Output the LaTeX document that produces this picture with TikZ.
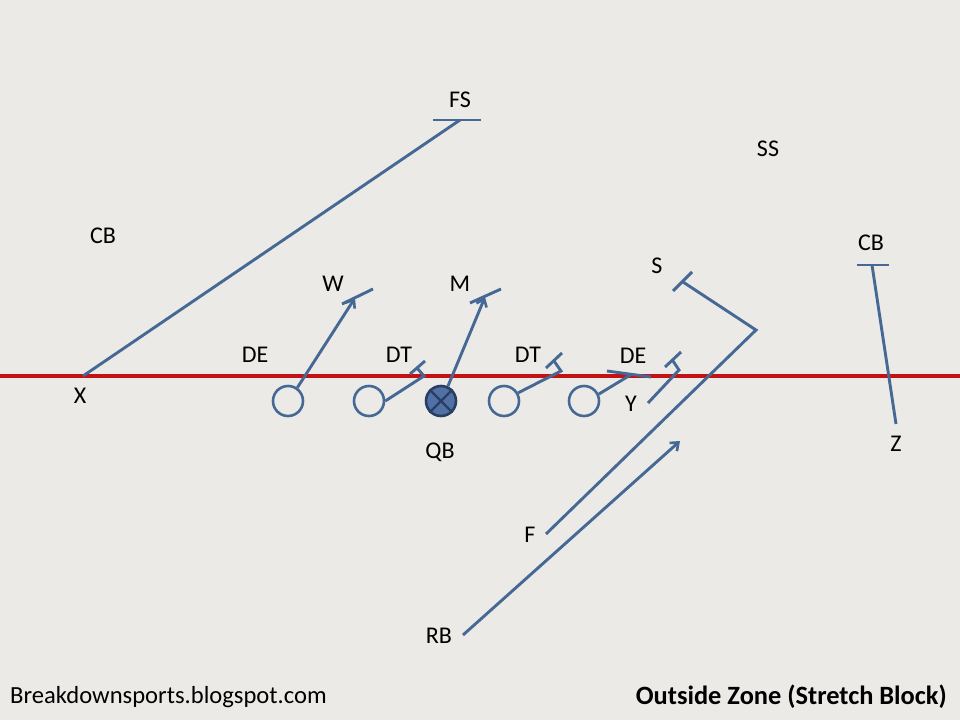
\documentclass[tikz,border=0pt]{standalone}
\usepackage{fontspec}
\setmainfont{Carlito}
\usetikzlibrary{arrows.meta}
\definecolor{bg}{RGB}{236,234,231}
\definecolor{route}{RGB}{70,104,148}
\definecolor{los}{RGB}{196,18,20}
\definecolor{qbfill}{RGB}{80,112,166}
\definecolor{qbline}{RGB}{40,62,98}
\tikzset{
  lbl/.style={font=\fontsize{24}{26}\selectfont, inner sep=0pt, text=black},
  player/.style={circle, draw=route, line width=2.6pt, minimum size=30pt, inner sep=0pt},
  rt/.style={draw=route, line width=2.9pt},
  bar/.style={draw=route, line width=2.9pt},
  tip/.style={-{Straight Barb[length=7pt,width=11pt,line width=2.6pt]}},
}
\begin{document}
\begin{tikzpicture}[x=1pt,y=-1pt]
\fill[bg] (0,0) rectangle (960,720);
\useasboundingbox (0,0) rectangle (960,720);
% line of scrimmage
\coordinate (losL) at (0,376);
\coordinate (losR) at (960,376);
\draw[los, line width=3.5pt] (losL) -- (losR);

% labels
\node[lbl] (fs) at (460,100) {FS};
\node[lbl] (ss) at (768,149) {SS};
\node[lbl] (cbl) at (103,236) {CB};
\node[lbl] (cbr) at (871,243) {CB};
\node[lbl] (w) at (333,284) {W};
\node[lbl] (m) at (460,284) {M};
\node[lbl] (s) at (657,266) {S};
\node[lbl] (de1) at (255,355) {DE};
\node[lbl] (dt1) at (399,355) {DT};
\node[lbl] (dt2) at (528,355) {DT};
\node[lbl] (de2) at (633,356) {DE};
\node[lbl] (x) at (80,396) {X};
\node[lbl] (y) at (631,404) {Y};
\node[lbl] (z) at (896,444) {Z};
\node[lbl] (qb) at (440,452) {QB};
\node[lbl] (f) at (530,535) {F};
\node[lbl] (rb) at (439,636) {RB};
\node[lbl, anchor=west, font=\fontsize{24.6}{26}\selectfont] (credit) at (10,697) {Breakdownsports.blogspot.com};
\node[lbl, anchor=east, font=\fontsize{26.4}{28}\selectfont\bfseries] (title) at (947,697) {Outside Zone (Stretch Block)};

% offensive line
\node[player] (lt) at (288,401) {};
\node[player] (lg) at (369,401) {};
\node[player, fill=qbfill, draw=qbline] (c) at (441,401) {};
\draw[qbline, line width=2.4pt] (c.north west) -- (c.south east) (c.north east) -- (c.south west);
\node[player] (rg) at (504,401) {};
\node[player] (rt) at (584,401) {};

% X to FS
\coordinate (xs) at (83,376);
\coordinate (fsm) at (460,120);
\coordinate (fsa) at (433,120);
\coordinate (fsb) at (481,120);
\draw[rt] (xs) -- (fsm);
\draw[bar] (fsa) -- (fsb);

% LT to W
\coordinate (wt) at (355,298);
\coordinate (wa) at (342,304);
\coordinate (wb) at (373,289);
\draw[rt, tip] (lt.55) -- (wt);
\draw[bar] (wa) -- (wb);

% C to M
\coordinate (mt) at (485,297);
\coordinate (ma) at (470,303);
\coordinate (mb) at (501,289);
\draw[rt, tip] (c.65) -- (mt);
\draw[bar] (ma) -- (mb);

% LG to DT
\coordinate (g1c) at (424,376);
\coordinate (g1s) at (417,368);
\coordinate (g1a) at (410,374);
\coordinate (g1b) at (425,361);
\draw[rt] (lg.east) -- (g1c) -- (g1s);
\draw[bar] (g1a) -- (g1b);

% RG to DT
\coordinate (g2c) at (561,371);
\coordinate (g2s) at (554,361);
\coordinate (g2a) at (546,368);
\coordinate (g2b) at (562,353);
\draw[rt] (rg.30) -- (g2c) -- (g2s);
\draw[bar] (g2a) -- (g2b);

% RT to DE
\coordinate (tc) at (632,374);
\coordinate (ta) at (607,371);
\coordinate (tb) at (651,377);
\draw[rt] (rt.25) -- (tc);
\draw[bar] (ta) -- (tb);

% Y block
\coordinate (ys) at (648,403);
\coordinate (yc) at (679,370);
\coordinate (yst) at (673,361);
\coordinate (ya) at (665,367);
\coordinate (yb) at (681,352);
\draw[rt] (ys) -- (yc) -- (yst);
\draw[bar] (ya) -- (yb);

% F kick to S
\coordinate (fs0) at (546,534);
\coordinate (fturn) at (756,330);
\coordinate (sm) at (683,282);
\coordinate (sa) at (673,291);
\coordinate (sb) at (692,272);
\draw[rt] (fs0) -- (fturn) -- (sm);
\draw[bar] (sa) -- (sb);

% RB run
\coordinate (rbs) at (463,635);
\coordinate (rbe) at (680,441);
\draw[rt, tip] (rbs) -- (rbe);

% Z to CB
\coordinate (zs) at (896,424);
\coordinate (cbm) at (872,265);
\coordinate (cba) at (857,265);
\coordinate (cbb) at (889,265);
\draw[rt] (zs) -- (cbm);
\draw[bar] (cba) -- (cbb);
\end{tikzpicture}
\end{document}
